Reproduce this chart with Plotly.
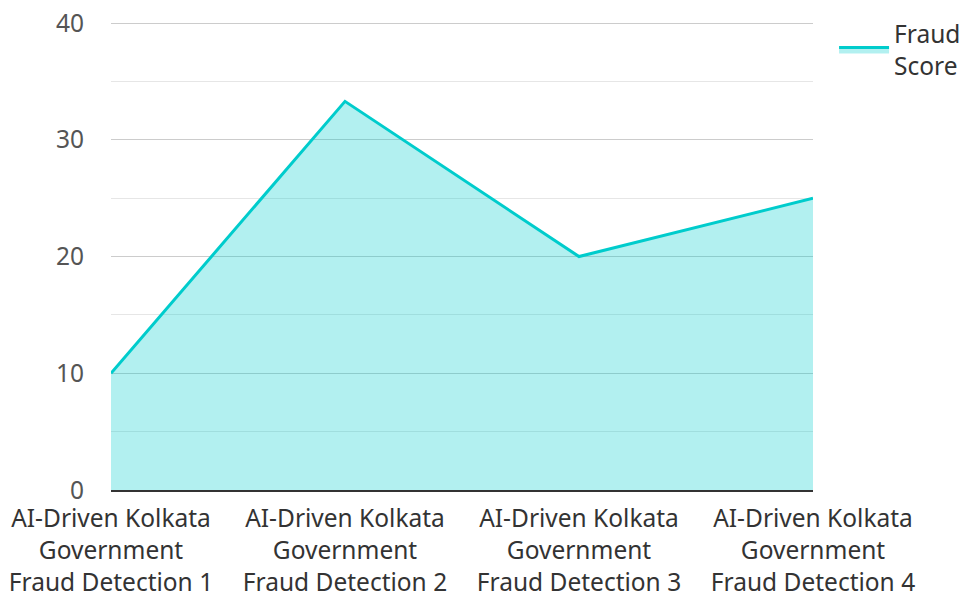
import plotly.graph_objects as go

categories = [
    "AI-Driven Kolkata<br>Government<br>Fraud Detection 1",
    "AI-Driven Kolkata<br>Government<br>Fraud Detection 2",
    "AI-Driven Kolkata<br>Government<br>Fraud Detection 3",
    "AI-Driven Kolkata<br>Government<br>Fraud Detection 4",
]
fraud_score = [10, 33.3, 20, 25]
series_name = "Fraud<br>Score"
y_ticks = [0, 10, 20, 30, 40]

x_pos = list(range(len(categories)))

fig = go.Figure()
fig.add_trace(go.Scatter(
    x=x_pos, y=fraud_score, name=series_name, mode="lines",
    line=dict(color="#00CCCC", width=3),
    fill="tozeroy", fillcolor="rgba(0,204,204,0.3)",
))

font_family = "Noto Sans, Open Sans, sans-serif"
fs = 24.5
fig.update_layout(
    width=959, height=586,
    margin=dict(l=103, r=154, t=14, b=104, autoexpand=False),
    plot_bgcolor="white", paper_bgcolor="white",
    font=dict(family=font_family, size=fs, color="#444"),
    showlegend=True,
    legend=dict(x=1.03, y=1.023, xanchor="left", yanchor="top",
                itemwidth=50,
                font=dict(size=fs, color="#333"), bgcolor="rgba(0,0,0,0)"),
    xaxis=dict(
        tickvals=x_pos, ticktext=categories, range=[0, 3],
        showgrid=False, zeroline=False, automargin=False,
        showline=True, linecolor="#333", linewidth=2,
        tickfont=dict(size=fs, color="#333"), ticks="",
        ticklabelstandoff=6, ticklabeloverflow="allow",
    ),
    yaxis=dict(
        range=[0, 40.1], tickmode="array", tickvals=y_ticks,
        showgrid=True, gridcolor="#cccccc", gridwidth=1,
        zeroline=False, showline=False, ticks="", automargin=False,
        tickfont=dict(size=fs, color="#555"),
        ticklabelstandoff=26, ticklabeloverflow="allow",
        minor=dict(dtick=5, showgrid=True, gridcolor="#e6e6e6", gridwidth=1),
    ),
)

fig.write_html("out.html")
